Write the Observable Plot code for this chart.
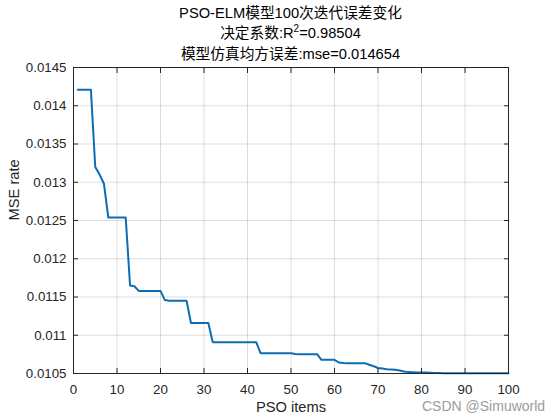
<!DOCTYPE html>
<html><head><meta charset="utf-8">
<script src="https://cdn.jsdelivr.net/npm/d3@7"></script>
<script src="https://cdn.jsdelivr.net/npm/@observablehq/plot@0.6"></script>
<style>
body{margin:0;background:#fff;}
#wrap{position:relative;width:560px;height:420px;}
.t{position:absolute;left:0;width:581px;text-align:center;font-size:14.7px;line-height:18px;color:#000;font-family:"Liberation Sans","Noto Sans CJK SC",sans-serif;white-space:nowrap;}
.t sup{font-size:10px;line-height:0;vertical-align:6px;}
#wm{position:absolute;left:422px;top:398px;font-size:14px;color:#9c9c9c;font-family:"Liberation Sans","Noto Sans CJK SC",sans-serif;white-space:nowrap;}
</style></head><body>
<div id="wrap"></div>
<script>
// ---- data ----
const titleLine1 = "PSO-ELM模型100次迭代误差变化";
const titleLine2a = "决定系数:R";
const titleLine2sup = "2";
const titleLine2b = "=0.98504";
const titleLine3 = "模型仿真均方误差:mse=0.014654";
const xLabel = "PSO items";
const yLabel = "MSE rate";
const watermark = "CSDN @Simuworld";
const xTicks = [0,10,20,30,40,50,60,70,80,90,100];
const yTicks = [0.0105,0.011,0.0115,0.012,0.0125,0.013,0.0135,0.014,0.0145];
const yTickLabels = ["0.0105","0.011","0.0115","0.012","0.0125","0.013","0.0135","0.014","0.0145"];
// MSE per iteration 1..100
const mseValues = [
  0.01421,0.01421,0.01421,0.01421,0.01320,0.01310,0.01298,0.01254,0.01254,0.01254,
  0.01254,0.01254,0.01165,0.01164,0.01158,0.01158,0.01158,0.01158,0.01158,0.01158,
  0.01146,0.01145,0.01145,0.01145,0.01145,0.01145,0.01116,0.01116,0.01116,0.01116,
  0.01116,0.01091,0.01091,0.01091,0.01091,0.01091,0.01091,0.01091,0.01091,0.01091,
  0.01091,0.01091,0.010765,0.010765,0.010765,0.010765,0.010765,0.010765,0.010765,0.010765,
  0.010755,0.010752,0.010752,0.010752,0.010752,0.010752,0.010679,0.010679,0.010679,0.010679,
  0.010644,0.010636,0.010635,0.010635,0.010635,0.010635,0.010635,0.010614,0.010595,0.010572,
  0.010565,0.010557,0.010553,0.010549,0.010538,0.010526,0.010518,0.010516,0.010514,0.010513,
  0.010512,0.010510,0.010508,0.010506,0.010502,0.010502,0.010502,0.010502,0.010502,0.010502,
  0.010502,0.010502,0.010502,0.010502,0.010502,0.010502,0.010502,0.010502,0.010502,0.010502
];
const data = mseValues.map((v, i) => ({iter: i + 1, mse: v}));

const axisColor = "#262626";
const chart = Plot.plot({
  width: 560, height: 420,
  marginLeft: 73, marginRight: 52, marginTop: 67, marginBottom: 47,
  style: {fontFamily: "Liberation Sans, Arial, sans-serif", fontSize: "13.3px", color: axisColor, background: "white"},
  x: {domain: [0, 100]},
  y: {domain: [0.0105, 0.0145]},
  marks: [
    Plot.gridX(xTicks, {stroke: "#000", strokeOpacity: 0.13}),
    Plot.gridY(yTicks, {stroke: "#000", strokeOpacity: 0.13}),
    Plot.line(data, {x: "iter", y: "mse", stroke: "#0a6db5", strokeWidth: 2}),
    Plot.frame({stroke: axisColor}),
    Plot.axisX(xTicks, {anchor: "bottom", tickSize: 0, tickPadding: 11, label: null, fill: axisColor}),
    Plot.axisX(xTicks, {anchor: "bottom", tickSize: -5, fill: "none", label: null, stroke: axisColor}),
    Plot.axisX(xTicks, {anchor: "top", tickSize: -5, fill: "none", label: null, stroke: axisColor}),
    Plot.axisY(yTicks, {anchor: "left", tickSize: 0, tickPadding: 7, label: null, fill: axisColor,
      tickFormat: d => yTickLabels[yTicks.indexOf(d)]}),
    Plot.axisY(yTicks, {anchor: "left", tickSize: -5, fill: "none", label: null, stroke: axisColor}),
    Plot.axisY(yTicks, {anchor: "right", tickSize: -5, fill: "none", label: null, stroke: axisColor}),
    Plot.text([yLabel], {frameAnchor: "left", dx: -59, rotate: -90, fontSize: 14.7, fill: axisColor}),
    Plot.text([xLabel], {frameAnchor: "bottom", dy: 38, fontSize: 14.7, fill: axisColor})
  ]
});
const wrap = document.getElementById("wrap");
wrap.appendChild(chart);
const mk = (top) => { const d = document.createElement("div"); d.className = "t"; d.style.top = top + "px"; wrap.appendChild(d); return d; };
mk(4).textContent = titleLine1;
const l2 = mk(24);
l2.append(titleLine2a);
const s = document.createElement("sup"); s.textContent = titleLine2sup; l2.append(s);
l2.append(titleLine2b);
mk(45).textContent = titleLine3;
const wm = document.createElement("div"); wm.id = "wm"; wm.textContent = watermark; wrap.appendChild(wm);
</script>
</body></html>
